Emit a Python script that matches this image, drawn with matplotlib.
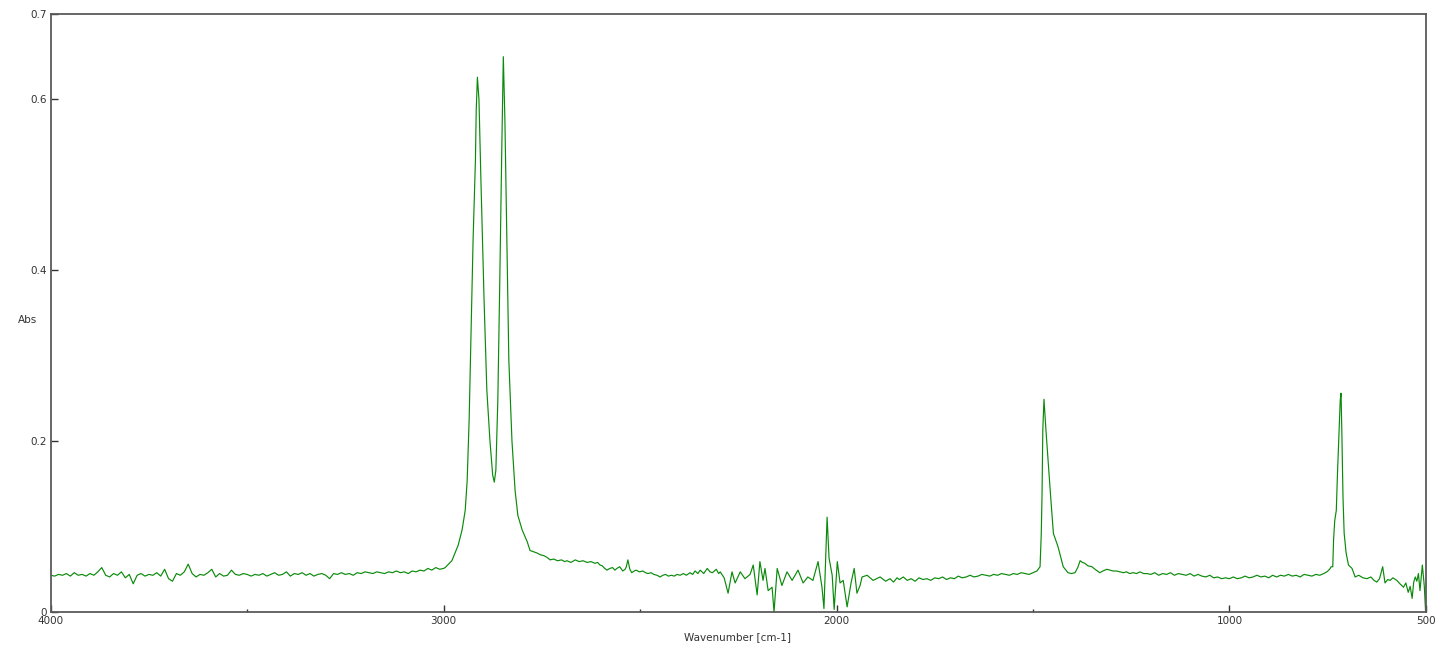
import numpy as np
import matplotlib
matplotlib.use("Agg")
import matplotlib.pyplot as plt

# IR spectrum: wavenumber [cm-1] and absorbance
wn_base1 = [4000, 3990, 3980, 3970, 3960, 3950, 3940, 3930, 3920, 3910,
            3900, 3890, 3880, 3870, 3860, 3850, 3840, 3830, 3820, 3810,
            3800, 3790, 3780, 3770, 3760, 3750, 3740, 3730, 3720, 3710,
            3700, 3690, 3680, 3670, 3660, 3650, 3640, 3630, 3620, 3610,
            3600, 3590, 3580, 3570, 3560, 3550, 3540, 3530, 3520, 3510,
            3500, 3490, 3480, 3470, 3460, 3450, 3440, 3430, 3420, 3410,
            3400, 3390, 3380, 3370, 3360, 3350, 3340, 3330, 3320, 3310,
            3300, 3290, 3280, 3270, 3260, 3250, 3240, 3230, 3220, 3210,
            3200, 3190, 3180, 3170, 3160, 3150, 3140, 3130, 3120, 3110,
            3100, 3090, 3080, 3070, 3060, 3050, 3040, 3030, 3020, 3010, 3000]
ab_base1 = [0.043, 0.042, 0.044, 0.043, 0.045, 0.042, 0.046, 0.043, 0.044, 0.042,
            0.045, 0.043, 0.047, 0.052, 0.043, 0.041, 0.045, 0.043, 0.047, 0.040,
            0.044, 0.033, 0.043, 0.045, 0.042, 0.044, 0.043, 0.046, 0.042, 0.050,
            0.039, 0.036, 0.045, 0.043, 0.047, 0.056, 0.045, 0.041, 0.044, 0.043,
            0.046, 0.050, 0.041, 0.045, 0.042, 0.043, 0.049, 0.044, 0.043, 0.045,
            0.044, 0.042, 0.044, 0.043, 0.045, 0.042, 0.044, 0.046, 0.043, 0.044,
            0.047, 0.042, 0.045, 0.044, 0.046, 0.043, 0.045, 0.042, 0.044, 0.045,
            0.043, 0.039, 0.045, 0.044, 0.046, 0.044, 0.045, 0.043, 0.046, 0.045,
            0.047, 0.046, 0.045, 0.047, 0.046, 0.045, 0.047, 0.046, 0.048, 0.046,
            0.047, 0.045, 0.048, 0.047, 0.049, 0.048, 0.051, 0.049, 0.052, 0.050, 0.051]

# C-H stretch doublet
wn_ch = [2996, 2979, 2963, 2953, 2945, 2940, 2935, 2930, 2925, 2919, 2917, 2914,
         2910, 2905, 2897, 2890, 2882, 2875, 2871, 2867, 2862, 2857, 2852, 2848,
         2844, 2839, 2834, 2826, 2818, 2811, 2800, 2787, 2780, 2762, 2754]
ab_ch = [0.052, 0.060, 0.078, 0.096, 0.119, 0.154, 0.225, 0.330, 0.435, 0.529, 0.587, 0.626,
         0.600, 0.505, 0.365, 0.260, 0.200, 0.160, 0.152, 0.166, 0.248, 0.388, 0.540, 0.650,
         0.576, 0.435, 0.295, 0.200, 0.142, 0.113, 0.096, 0.082, 0.072, 0.069, 0.067]

wn_base2 = [2745, 2737, 2729, 2720, 2710, 2700, 2692, 2686, 2676, 2665, 2655, 2645,
            2635, 2625, 2615, 2608, 2602, 2596, 2590, 2584, 2577, 2570, 2564, 2559,
            2552, 2544, 2538, 2535, 2531, 2526, 2521, 2515, 2510, 2502, 2493, 2486,
            2480, 2472, 2465, 2457, 2449, 2442, 2435, 2428, 2420, 2413, 2406, 2398,
            2390, 2382, 2373, 2366, 2360, 2353, 2347, 2338, 2329, 2322, 2316, 2306, 2300]
ab_base2 = [0.066, 0.064, 0.061, 0.062, 0.060, 0.061, 0.059, 0.060, 0.058, 0.061, 0.059, 0.060,
            0.058, 0.059, 0.057, 0.058, 0.055, 0.054, 0.051, 0.049, 0.051, 0.052, 0.049, 0.051,
            0.053, 0.048, 0.050, 0.053, 0.061, 0.050, 0.046, 0.048, 0.049, 0.047, 0.048, 0.046,
            0.045, 0.046, 0.044, 0.043, 0.041, 0.043, 0.044, 0.042, 0.043, 0.042, 0.044, 0.043,
            0.045, 0.043, 0.046, 0.044, 0.048, 0.045, 0.049, 0.045, 0.051, 0.047, 0.046, 0.050, 0.045]

# noisy atmospheric region
wn_noise = [2296, 2286, 2276, 2266, 2258, 2245, 2233, 2220, 2212, 2202, 2195, 2187,
            2182, 2174, 2164, 2159, 2151, 2139, 2126, 2113, 2098, 2085, 2073, 2060,
            2047, 2037, 2032, 2027, 2024, 2019, 2011, 2006, 1998, 1991, 1983, 1973,
            1963, 1955, 1948, 1940, 1935, 1922, 1907, 1889, 1875, 1864, 1855, 1846]
ab_noise = [0.047, 0.040, 0.022, 0.047, 0.034, 0.047, 0.039, 0.044, 0.055, 0.020, 0.059, 0.037,
            0.051, 0.025, 0.029, 0.000, 0.051, 0.031, 0.047, 0.037, 0.049, 0.034, 0.041, 0.037,
            0.059, 0.029, 0.004, 0.069, 0.111, 0.063, 0.043, 0.003, 0.059, 0.034, 0.037, 0.006,
            0.034, 0.051, 0.022, 0.031, 0.041, 0.043, 0.037, 0.041, 0.036, 0.039, 0.035, 0.040]

wn_base3 = [1840, 1830, 1820, 1810, 1800, 1790, 1780, 1770, 1760, 1750,
            1740, 1730, 1720, 1710, 1700, 1690, 1680, 1670, 1660, 1650,
            1640, 1630, 1620, 1610, 1600, 1590, 1580, 1570, 1560, 1550,
            1540, 1530, 1520, 1510, 1500, 1490]
ab_base3 = [0.038, 0.041, 0.037, 0.039, 0.036, 0.040, 0.038, 0.039, 0.037, 0.040,
            0.039, 0.041, 0.038, 0.040, 0.039, 0.042, 0.040, 0.041, 0.043, 0.041,
            0.042, 0.044, 0.043, 0.042, 0.044, 0.043, 0.045, 0.044, 0.043, 0.045,
            0.044, 0.046, 0.045, 0.044, 0.046, 0.048]

# CH2 bending band
wn_bend = [1482, 1479, 1477, 1475, 1472, 1467, 1461, 1455, 1448, 1436, 1423, 1411,
           1402, 1393, 1386, 1380, 1374, 1368, 1360, 1350, 1342, 1336, 1330, 1322,
           1312, 1304, 1296, 1287, 1278, 1270, 1262, 1254, 1245, 1236, 1228, 1218, 1210]
ab_bend = [0.053, 0.090, 0.135, 0.213, 0.249, 0.213, 0.174, 0.135, 0.092, 0.076, 0.053, 0.046,
           0.045, 0.046, 0.052, 0.060, 0.058, 0.057, 0.054, 0.053, 0.050, 0.048, 0.046, 0.048,
           0.050, 0.049, 0.048, 0.048, 0.047, 0.046, 0.047, 0.045, 0.046, 0.045, 0.047, 0.045, 0.045]

wn_base4 = [1200, 1190, 1180, 1170, 1160, 1150, 1140, 1130, 1120, 1110,
            1100, 1090, 1080, 1070, 1060, 1050, 1040, 1030, 1020, 1010,
            1000, 990, 980, 970, 960, 950, 940, 930, 920, 910,
            900, 890, 880, 870, 860, 850, 840, 830, 820, 810,
            800, 790, 780, 770, 760, 752, 745, 741]
ab_base4 = [0.044, 0.046, 0.043, 0.045, 0.044, 0.046, 0.043, 0.045, 0.044, 0.043,
            0.045, 0.042, 0.044, 0.042, 0.041, 0.043, 0.040, 0.041, 0.039, 0.040,
            0.039, 0.041, 0.039, 0.040, 0.042, 0.040, 0.041, 0.043, 0.041, 0.042,
            0.040, 0.043, 0.041, 0.043, 0.042, 0.044, 0.042, 0.043, 0.041, 0.044,
            0.043, 0.042, 0.044, 0.043, 0.045, 0.047, 0.050, 0.053]

# CH2 rocking band and noisy end
wn_rock = [737, 735, 732, 728, 725, 721, 718, 716, 714, 711, 708, 703,
           697, 688, 680, 671, 660, 650, 640, 632, 625, 618, 610, 604,
           597, 591, 584, 574, 566, 557, 551, 545, 540, 535, 531, 527,
           523, 519, 515, 509, 506, 504, 501, 500]
ab_rock = [0.053, 0.084, 0.107, 0.119, 0.162, 0.213, 0.248, 0.256, 0.213, 0.135, 0.092, 0.069,
           0.055, 0.051, 0.041, 0.043, 0.040, 0.039, 0.041, 0.037, 0.035, 0.039, 0.053, 0.034,
           0.038, 0.037, 0.040, 0.037, 0.033, 0.029, 0.034, 0.023, 0.030, 0.016, 0.035, 0.041,
           0.036, 0.045, 0.025, 0.055, 0.040, 0.030, 0.002, 0.000]

wn = np.array(wn_base1 + wn_ch + wn_base2 + wn_noise + wn_base3 + wn_bend + wn_base4 + wn_rock)
ab = np.array(ab_base1 + ab_ch + ab_base2 + ab_noise + ab_base3 + ab_bend + ab_base4 + ab_rock)

x_major = [4000, 3000, 2000, 1000, 500]
x_minor = [3500, 2500, 1500]
y_major = [0, 0.2, 0.4, 0.6, 0.7]

fig = plt.figure(figsize=(14.4, 6.47), dpi=100)
ax = fig.add_axes([0.0352, 0.0541, 0.9550, 0.9243])

ax.plot(wn, ab, color="#0a8a0a", lw=0.85)

ax.set_xlim(4000, 500)
ax.set_ylim(0, 0.7)
ax.set_xticks(x_major)
ax.set_xticklabels(["4000", "3000", "2000", "1000", "500"])
ax.set_xticks(x_minor, minor=True)
ax.set_yticks(y_major)
ax.set_yticklabels(["0", "0.2", "0.4", "0.6", "0.7"])

for s in ax.spines.values():
    s.set_color("#5a5a5a")
    s.set_linewidth(1.3)

ax.tick_params(axis="both", which="major", direction="in", length=5, width=1,
               color="#333333", labelsize=7.5, labelcolor="#333333", pad=3)
ax.tick_params(axis="x", which="minor", direction="in", length=2.5, width=1,
               color="#333333")

fig.text(0.0125, 0.505, "Abs", fontsize=7.5, color="#333333", ha="left", va="center")
fig.text(0.5125, 0.015, "Wavenumber [cm-1]", fontsize=7.5, color="#333333",
         ha="center", va="center")

fig.savefig("out.png", dpi=100)
